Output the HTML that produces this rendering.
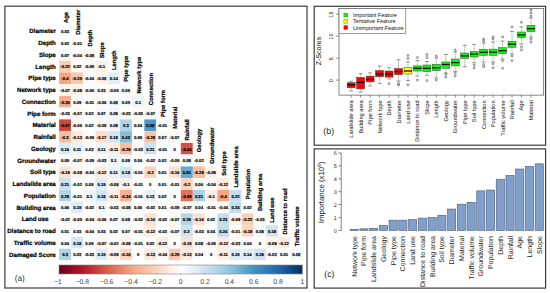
<!DOCTYPE html>
<html><head><meta charset="utf-8"><style>
html,body{margin:0;padding:0;background:#fff;width:550px;height:293px;overflow:hidden}
svg{display:block;font-family:"Liberation Sans",sans-serif;text-rendering:geometricPrecision}
</style></head><body>
<svg width="550" height="293" viewBox="0 0 550 293">
<rect width="550" height="293" fill="#fff"/>
<rect x="4.9" y="6.2" width="302.1" height="281.8" fill="none" stroke="#333" stroke-width="1.15"/>
<rect x="314.2" y="6.3" width="231.4" height="138.9" fill="none" stroke="#333" stroke-width="1.15"/>
<rect x="314.2" y="148.9" width="231.4" height="139.2" fill="none" stroke="#333" stroke-width="1.15"/>
<rect x="59.10" y="25.40" width="11.97" height="11.55" fill="#fcfdfe"/>
<rect x="59.10" y="37.15" width="11.97" height="11.55" fill="#fdfefe"/>
<rect x="71.27" y="37.15" width="11.97" height="11.55" fill="#fffffe"/>
<rect x="59.10" y="48.90" width="11.97" height="11.55" fill="#f5f9fc"/>
<rect x="71.27" y="48.90" width="11.97" height="11.55" fill="#fffbf9"/>
<rect x="83.44" y="48.90" width="11.97" height="11.55" fill="#fef4ee"/>
<rect x="59.10" y="60.65" width="11.97" height="11.55" fill="#fbceb6"/>
<rect x="71.27" y="60.65" width="11.97" height="11.55" fill="#fdfefe"/>
<rect x="83.44" y="60.65" width="11.97" height="11.55" fill="#fffaf7"/>
<rect x="95.61" y="60.65" width="11.97" height="11.55" fill="#feefe7"/>
<rect x="59.10" y="72.40" width="11.97" height="11.55" fill="#f4a582"/>
<rect x="71.27" y="72.40" width="11.97" height="11.55" fill="#fac8ae"/>
<rect x="83.44" y="72.40" width="11.97" height="11.55" fill="#fffbf9"/>
<rect x="95.61" y="72.40" width="11.97" height="11.55" fill="#fef4ee"/>
<rect x="107.78" y="72.40" width="11.97" height="11.55" fill="#e2eef6"/>
<rect x="59.10" y="84.15" width="11.97" height="11.55" fill="#fef6f1"/>
<rect x="71.27" y="84.15" width="11.97" height="11.55" fill="#fef2eb"/>
<rect x="83.44" y="84.15" width="11.97" height="11.55" fill="#fff8f4"/>
<rect x="95.61" y="84.15" width="11.97" height="11.55" fill="#fcfdfe"/>
<rect x="107.78" y="84.15" width="11.97" height="11.55" fill="#fffaf7"/>
<rect x="119.95" y="84.15" width="11.97" height="11.55" fill="#f9fbfd"/>
<rect x="59.10" y="95.90" width="11.97" height="11.55" fill="#f6ae8e"/>
<rect x="71.27" y="95.90" width="11.97" height="11.55" fill="#f9fbfd"/>
<rect x="83.44" y="95.90" width="11.97" height="11.55" fill="#fffffe"/>
<rect x="95.61" y="95.90" width="11.97" height="11.55" fill="#fff8f4"/>
<rect x="107.78" y="95.90" width="11.97" height="11.55" fill="#f2f8fb"/>
<rect x="119.95" y="95.90" width="11.97" height="11.55" fill="#f9fbfd"/>
<rect x="132.12" y="95.90" width="11.97" height="11.55" fill="#edf5f9"/>
<rect x="59.10" y="107.65" width="11.97" height="11.55" fill="#fffcfb"/>
<rect x="71.27" y="107.65" width="11.97" height="11.55" fill="#fef6f1"/>
<rect x="83.44" y="107.65" width="11.97" height="11.55" fill="#fdfefe"/>
<rect x="95.61" y="107.65" width="11.97" height="11.55" fill="#f5f9fc"/>
<rect x="107.78" y="107.65" width="11.97" height="11.55" fill="#f0f6fa"/>
<rect x="119.95" y="107.65" width="11.97" height="11.55" fill="#fffcfb"/>
<rect x="132.12" y="107.65" width="11.97" height="11.55" fill="#fffaf7"/>
<rect x="144.29" y="107.65" width="11.97" height="11.55" fill="#fef6f1"/>
<rect x="59.10" y="119.40" width="11.97" height="11.55" fill="#c94741"/>
<rect x="71.27" y="119.40" width="11.97" height="11.55" fill="#fff8f4"/>
<rect x="83.44" y="119.40" width="11.97" height="11.55" fill="#fdfefe"/>
<rect x="95.61" y="119.40" width="11.97" height="11.55" fill="#fffaf7"/>
<rect x="107.78" y="119.40" width="11.97" height="11.55" fill="#f0f6fa"/>
<rect x="119.95" y="119.40" width="11.97" height="11.55" fill="#b0d4e6"/>
<rect x="132.12" y="119.40" width="11.97" height="11.55" fill="#fbfcfe"/>
<rect x="144.29" y="119.40" width="11.97" height="11.55" fill="#4b98c6"/>
<rect x="156.46" y="119.40" width="11.97" height="11.55" fill="#fffffe"/>
<rect x="59.10" y="131.15" width="11.97" height="11.55" fill="#f8bc9f"/>
<rect x="71.27" y="131.15" width="11.97" height="11.55" fill="#fde8dc"/>
<rect x="83.44" y="131.15" width="11.97" height="11.55" fill="#fffaf7"/>
<rect x="95.61" y="131.15" width="11.97" height="11.55" fill="#fdddca"/>
<rect x="107.78" y="131.15" width="11.97" height="11.55" fill="#d4e6f1"/>
<rect x="119.95" y="131.15" width="11.97" height="11.55" fill="#86beda"/>
<rect x="132.12" y="131.15" width="11.97" height="11.55" fill="#f9fbfd"/>
<rect x="144.29" y="131.15" width="11.97" height="11.55" fill="#f9c1a5"/>
<rect x="156.46" y="131.15" width="11.97" height="11.55" fill="#f5f9fc"/>
<rect x="168.63" y="131.15" width="11.97" height="11.55" fill="#fef6f1"/>
<rect x="59.10" y="142.90" width="11.97" height="11.55" fill="#dbeaf4"/>
<rect x="71.27" y="142.90" width="11.97" height="11.55" fill="#ebf3f8"/>
<rect x="83.44" y="142.90" width="11.97" height="11.55" fill="#fcfdfe"/>
<rect x="95.61" y="142.90" width="11.97" height="11.55" fill="#ebf3f8"/>
<rect x="107.78" y="142.90" width="11.97" height="11.55" fill="#feede4"/>
<rect x="119.95" y="142.90" width="11.97" height="11.55" fill="#f8bea2"/>
<rect x="132.12" y="142.90" width="11.97" height="11.55" fill="#fffcfb"/>
<rect x="144.29" y="142.90" width="11.97" height="11.55" fill="#cae1ee"/>
<rect x="156.46" y="142.90" width="11.97" height="11.55" fill="#fffffe"/>
<rect x="168.63" y="142.90" width="11.97" height="11.55" fill="#ffffff"/>
<rect x="180.80" y="142.90" width="11.97" height="11.55" fill="#cf5246"/>
<rect x="59.10" y="154.65" width="11.97" height="11.55" fill="#f9fbfd"/>
<rect x="71.27" y="154.65" width="11.97" height="11.55" fill="#fef6f1"/>
<rect x="83.44" y="154.65" width="11.97" height="11.55" fill="#fffaf7"/>
<rect x="95.61" y="154.65" width="11.97" height="11.55" fill="#fffcfb"/>
<rect x="107.78" y="154.65" width="11.97" height="11.55" fill="#edf5f9"/>
<rect x="119.95" y="154.65" width="11.97" height="11.55" fill="#f0f6fa"/>
<rect x="132.12" y="154.65" width="11.97" height="11.55" fill="#fbfcfe"/>
<rect x="144.29" y="154.65" width="11.97" height="11.55" fill="#fffefd"/>
<rect x="156.46" y="154.65" width="11.97" height="11.55" fill="#fdfefe"/>
<rect x="168.63" y="154.65" width="11.97" height="11.55" fill="#fffaf7"/>
<rect x="180.80" y="154.65" width="11.97" height="11.55" fill="#f2f8fb"/>
<rect x="192.97" y="154.65" width="11.97" height="11.55" fill="#fffefd"/>
<rect x="59.10" y="166.40" width="11.97" height="11.55" fill="#fde2d3"/>
<rect x="71.27" y="166.40" width="11.97" height="11.55" fill="#fef4ee"/>
<rect x="83.44" y="166.40" width="11.97" height="11.55" fill="#fffbf9"/>
<rect x="95.61" y="166.40" width="11.97" height="11.55" fill="#feebe0"/>
<rect x="107.78" y="166.40" width="11.97" height="11.55" fill="#ebf3f8"/>
<rect x="119.95" y="166.40" width="11.97" height="11.55" fill="#d4e6f1"/>
<rect x="132.12" y="166.40" width="11.97" height="11.55" fill="#fffffe"/>
<rect x="144.29" y="166.40" width="11.97" height="11.55" fill="#fcd3bc"/>
<rect x="156.46" y="166.40" width="11.97" height="11.55" fill="#feffff"/>
<rect x="168.63" y="166.40" width="11.97" height="11.55" fill="#fde0cf"/>
<rect x="180.80" y="166.40" width="11.97" height="11.55" fill="#67aacf"/>
<rect x="192.97" y="166.40" width="11.97" height="11.55" fill="#f8bea2"/>
<rect x="205.14" y="166.40" width="11.97" height="11.55" fill="#fef2eb"/>
<rect x="59.10" y="178.15" width="11.97" height="11.55" fill="#cae1ee"/>
<rect x="71.27" y="178.15" width="11.97" height="11.55" fill="#fffefd"/>
<rect x="83.44" y="178.15" width="11.97" height="11.55" fill="#f9fbfd"/>
<rect x="95.61" y="178.15" width="11.97" height="11.55" fill="#dfecf5"/>
<rect x="107.78" y="178.15" width="11.97" height="11.55" fill="#fef4ee"/>
<rect x="119.95" y="178.15" width="11.97" height="11.55" fill="#feefe7"/>
<rect x="132.12" y="178.15" width="11.97" height="11.55" fill="#fffffe"/>
<rect x="144.29" y="178.15" width="11.97" height="11.55" fill="#ffffff"/>
<rect x="156.46" y="178.15" width="11.97" height="11.55" fill="#feffff"/>
<rect x="168.63" y="178.15" width="11.97" height="11.55" fill="#fffffe"/>
<rect x="180.80" y="178.15" width="11.97" height="11.55" fill="#fcd3bc"/>
<rect x="192.97" y="178.15" width="11.97" height="11.55" fill="#f7fafc"/>
<rect x="205.14" y="178.15" width="11.97" height="11.55" fill="#fffbf9"/>
<rect x="217.31" y="178.15" width="11.97" height="11.55" fill="#feebe0"/>
<rect x="59.10" y="189.90" width="11.97" height="11.55" fill="#b2d5e7"/>
<rect x="71.27" y="189.90" width="11.97" height="11.55" fill="#fffffe"/>
<rect x="83.44" y="189.90" width="11.97" height="11.55" fill="#edf5f9"/>
<rect x="95.61" y="189.90" width="11.97" height="11.55" fill="#d4e6f1"/>
<rect x="107.78" y="189.90" width="11.97" height="11.55" fill="#feede4"/>
<rect x="119.95" y="189.90" width="11.97" height="11.55" fill="#f6b393"/>
<rect x="132.12" y="189.90" width="11.97" height="11.55" fill="#fffffe"/>
<rect x="144.29" y="189.90" width="11.97" height="11.55" fill="#e5f0f7"/>
<rect x="156.46" y="189.90" width="11.97" height="11.55" fill="#fdfefe"/>
<rect x="168.63" y="189.90" width="11.97" height="11.55" fill="#ffffff"/>
<rect x="180.80" y="189.90" width="11.97" height="11.55" fill="#de715a"/>
<rect x="192.97" y="189.90" width="11.97" height="11.55" fill="#add2e6"/>
<rect x="205.14" y="189.90" width="11.97" height="11.55" fill="#feefe7"/>
<rect x="217.31" y="189.90" width="11.97" height="11.55" fill="#f4a582"/>
<rect x="229.48" y="189.90" width="11.97" height="11.55" fill="#c7dfed"/>
<rect x="59.10" y="201.65" width="11.97" height="11.55" fill="#f7fafc"/>
<rect x="71.27" y="201.65" width="11.97" height="11.55" fill="#dfecf5"/>
<rect x="83.44" y="201.65" width="11.97" height="11.55" fill="#fffefd"/>
<rect x="95.61" y="201.65" width="11.97" height="11.55" fill="#edf5f9"/>
<rect x="107.78" y="201.65" width="11.97" height="11.55" fill="#fffcfb"/>
<rect x="119.95" y="201.65" width="11.97" height="11.55" fill="#fef4ee"/>
<rect x="132.12" y="201.65" width="11.97" height="11.55" fill="#f7fafc"/>
<rect x="144.29" y="201.65" width="11.97" height="11.55" fill="#fffefd"/>
<rect x="156.46" y="201.65" width="11.97" height="11.55" fill="#feffff"/>
<rect x="168.63" y="201.65" width="11.97" height="11.55" fill="#fffaf7"/>
<rect x="180.80" y="201.65" width="11.97" height="11.55" fill="#fef6f1"/>
<rect x="192.97" y="201.65" width="11.97" height="11.55" fill="#fbfcfe"/>
<rect x="205.14" y="201.65" width="11.97" height="11.55" fill="#fffffe"/>
<rect x="217.31" y="201.65" width="11.97" height="11.55" fill="#fffbf9"/>
<rect x="229.48" y="201.65" width="11.97" height="11.55" fill="#c1dcec"/>
<rect x="241.65" y="201.65" width="11.97" height="11.55" fill="#fdfefe"/>
<rect x="59.10" y="213.40" width="11.97" height="11.55" fill="#fffefd"/>
<rect x="71.27" y="213.40" width="11.97" height="11.55" fill="#fffaf7"/>
<rect x="83.44" y="213.40" width="11.97" height="11.55" fill="#fffbf9"/>
<rect x="95.61" y="213.40" width="11.97" height="11.55" fill="#fff8f4"/>
<rect x="107.78" y="213.40" width="11.97" height="11.55" fill="#f5f9fc"/>
<rect x="119.95" y="213.40" width="11.97" height="11.55" fill="#f2f8fb"/>
<rect x="132.12" y="213.40" width="11.97" height="11.55" fill="#fffefd"/>
<rect x="144.29" y="213.40" width="11.97" height="11.55" fill="#fde0cf"/>
<rect x="156.46" y="213.40" width="11.97" height="11.55" fill="#fffefd"/>
<rect x="168.63" y="213.40" width="11.97" height="11.55" fill="#fef6f1"/>
<rect x="180.80" y="213.40" width="11.97" height="11.55" fill="#b2d5e7"/>
<rect x="192.97" y="213.40" width="11.97" height="11.55" fill="#fde0cf"/>
<rect x="205.14" y="213.40" width="11.97" height="11.55" fill="#fdfefe"/>
<rect x="217.31" y="213.40" width="11.97" height="11.55" fill="#c4deec"/>
<rect x="229.48" y="213.40" width="11.97" height="11.55" fill="#fef2eb"/>
<rect x="241.65" y="213.40" width="11.97" height="11.55" fill="#fbceb6"/>
<rect x="253.82" y="213.40" width="11.97" height="11.55" fill="#fffcfb"/>
<rect x="59.10" y="225.15" width="11.97" height="11.55" fill="#feffff"/>
<rect x="71.27" y="225.15" width="11.97" height="11.55" fill="#fcfdfe"/>
<rect x="83.44" y="225.15" width="11.97" height="11.55" fill="#fffbf9"/>
<rect x="95.61" y="225.15" width="11.97" height="11.55" fill="#fcfdfe"/>
<rect x="107.78" y="225.15" width="11.97" height="11.55" fill="#fdfefe"/>
<rect x="119.95" y="225.15" width="11.97" height="11.55" fill="#f5f9fc"/>
<rect x="132.12" y="225.15" width="11.97" height="11.55" fill="#fffffe"/>
<rect x="144.29" y="225.15" width="11.97" height="11.55" fill="#feebe0"/>
<rect x="156.46" y="225.15" width="11.97" height="11.55" fill="#fffefd"/>
<rect x="168.63" y="225.15" width="11.97" height="11.55" fill="#fef6f1"/>
<rect x="180.80" y="225.15" width="11.97" height="11.55" fill="#cde2ef"/>
<rect x="192.97" y="225.15" width="11.97" height="11.55" fill="#fffcfb"/>
<rect x="205.14" y="225.15" width="11.97" height="11.55" fill="#fbfcfe"/>
<rect x="217.31" y="225.15" width="11.97" height="11.55" fill="#c1dcec"/>
<rect x="229.48" y="225.15" width="11.97" height="11.55" fill="#fffffe"/>
<rect x="241.65" y="225.15" width="11.97" height="11.55" fill="#fcd6c1"/>
<rect x="253.82" y="225.15" width="11.97" height="11.55" fill="#f2f8fb"/>
<rect x="265.99" y="225.15" width="11.97" height="11.55" fill="#d1e4f0"/>
<rect x="59.10" y="236.90" width="11.97" height="11.55" fill="#fbfcfe"/>
<rect x="71.27" y="236.90" width="11.97" height="11.55" fill="#d4e6f1"/>
<rect x="83.44" y="236.90" width="11.97" height="11.55" fill="#f9fbfd"/>
<rect x="95.61" y="236.90" width="11.97" height="11.55" fill="#fef6f1"/>
<rect x="107.78" y="236.90" width="11.97" height="11.55" fill="#fffefd"/>
<rect x="119.95" y="236.90" width="11.97" height="11.55" fill="#fef4ee"/>
<rect x="132.12" y="236.90" width="11.97" height="11.55" fill="#fffffe"/>
<rect x="144.29" y="236.90" width="11.97" height="11.55" fill="#fdfefe"/>
<rect x="156.46" y="236.90" width="11.97" height="11.55" fill="#feebe0"/>
<rect x="168.63" y="236.90" width="11.97" height="11.55" fill="#ffffff"/>
<rect x="180.80" y="236.90" width="11.97" height="11.55" fill="#fde2d3"/>
<rect x="192.97" y="236.90" width="11.97" height="11.55" fill="#f2f8fb"/>
<rect x="205.14" y="236.90" width="11.97" height="11.55" fill="#fffaf7"/>
<rect x="217.31" y="236.90" width="11.97" height="11.55" fill="#feebe0"/>
<rect x="229.48" y="236.90" width="11.97" height="11.55" fill="#fffcfb"/>
<rect x="241.65" y="236.90" width="11.97" height="11.55" fill="#fbfcfe"/>
<rect x="253.82" y="236.90" width="11.97" height="11.55" fill="#ffffff"/>
<rect x="265.99" y="236.90" width="11.97" height="11.55" fill="#fef2eb"/>
<rect x="278.16" y="236.90" width="11.97" height="11.55" fill="#feebe0"/>
<rect x="59.10" y="248.65" width="11.97" height="11.55" fill="#b0d4e6"/>
<rect x="71.27" y="248.65" width="11.97" height="11.55" fill="#fcfdfe"/>
<rect x="83.44" y="248.65" width="11.97" height="11.55" fill="#fffcfb"/>
<rect x="95.61" y="248.65" width="11.97" height="11.55" fill="#dfecf5"/>
<rect x="107.78" y="248.65" width="11.97" height="11.55" fill="#fef2eb"/>
<rect x="119.95" y="248.65" width="11.97" height="11.55" fill="#fcd9c6"/>
<rect x="132.12" y="248.65" width="11.97" height="11.55" fill="#ffffff"/>
<rect x="144.29" y="248.65" width="11.97" height="11.55" fill="#fde8dc"/>
<rect x="156.46" y="248.65" width="11.97" height="11.55" fill="#fffbf9"/>
<rect x="168.63" y="248.65" width="11.97" height="11.55" fill="#fac8ae"/>
<rect x="180.80" y="248.65" width="11.97" height="11.55" fill="#fde8dc"/>
<rect x="192.97" y="248.65" width="11.97" height="11.55" fill="#fbfcfe"/>
<rect x="205.14" y="248.65" width="11.97" height="11.55" fill="#ffffff"/>
<rect x="217.31" y="248.65" width="11.97" height="11.55" fill="#feede4"/>
<rect x="229.48" y="248.65" width="11.97" height="11.55" fill="#dfecf5"/>
<rect x="241.65" y="248.65" width="11.97" height="11.55" fill="#e2eef6"/>
<rect x="253.82" y="248.65" width="11.97" height="11.55" fill="#d1e4f0"/>
<rect x="265.99" y="248.65" width="11.97" height="11.55" fill="#fffcfb"/>
<rect x="278.16" y="248.65" width="11.97" height="11.55" fill="#feffff"/>
<rect x="290.33" y="248.65" width="11.97" height="11.55" fill="#f2f8fb"/>
<g font-family="Liberation Sans, sans-serif" font-size="4.2" font-weight="bold" fill="#000" stroke="#000" stroke-width="0.17" text-anchor="middle">
<text x="65.08" y="33.08">0.03</text>
<text x="65.08" y="44.82">0.02</text>
<text x="77.25" y="44.82">-0.01</text>
<text x="65.08" y="56.57">0.07</text>
<text x="77.25" y="56.57">-0.04</text>
<text x="89.42" y="56.57">-0.08</text>
<text x="65.08" y="68.33">-0.22</text>
<text x="77.25" y="68.33">0.02</text>
<text x="89.42" y="68.33">-0.05</text>
<text x="101.59" y="68.33">-0.1</text>
<text x="65.08" y="80.08">-0.4</text>
<text x="77.25" y="80.08">-0.25</text>
<text x="89.42" y="80.08">-0.04</text>
<text x="101.59" y="80.08">-0.08</text>
<text x="113.77" y="80.08">0.14</text>
<text x="65.08" y="91.83">-0.07</text>
<text x="77.25" y="91.83">-0.09</text>
<text x="89.42" y="91.83">-0.06</text>
<text x="101.59" y="91.83">0.03</text>
<text x="113.77" y="91.83">-0.05</text>
<text x="125.94" y="91.83">0.05</text>
<text x="65.08" y="103.58">-0.36</text>
<text x="77.25" y="103.58">0.05</text>
<text x="89.42" y="103.58">-0.01</text>
<text x="101.59" y="103.58">-0.06</text>
<text x="113.77" y="103.58">0.08</text>
<text x="125.94" y="103.58">0.05</text>
<text x="138.11" y="103.58">0.1</text>
<text x="65.08" y="115.33">-0.03</text>
<text x="77.25" y="115.33">-0.07</text>
<text x="89.42" y="115.33">0.02</text>
<text x="101.59" y="115.33">0.07</text>
<text x="113.77" y="115.33">0.09</text>
<text x="125.94" y="115.33">-0.03</text>
<text x="138.11" y="115.33">-0.05</text>
<text x="150.28" y="115.33">-0.07</text>
<text x="65.08" y="127.08">-0.67</text>
<text x="77.25" y="127.08">-0.06</text>
<text x="89.42" y="127.08">0.02</text>
<text x="101.59" y="127.08">-0.05</text>
<text x="113.77" y="127.08">0.09</text>
<text x="125.94" y="127.08">0.3</text>
<text x="138.11" y="127.08">0.04</text>
<text x="150.28" y="127.08">0.58</text>
<text x="162.44" y="127.08">-0.01</text>
<text x="65.08" y="138.83">-0.3</text>
<text x="77.25" y="138.83">-0.13</text>
<text x="89.42" y="138.83">-0.05</text>
<text x="101.59" y="138.83">-0.17</text>
<text x="113.77" y="138.83">0.18</text>
<text x="125.94" y="138.83">0.43</text>
<text x="138.11" y="138.83">0.05</text>
<text x="150.28" y="138.83">-0.28</text>
<text x="162.44" y="138.83">0.07</text>
<text x="174.62" y="138.83">-0.07</text>
<text x="65.08" y="150.58">0.16</text>
<text x="77.25" y="150.58">0.11</text>
<text x="89.42" y="150.58">0.03</text>
<text x="101.59" y="150.58">0.11</text>
<text x="113.77" y="150.58">-0.11</text>
<text x="125.94" y="150.58">-0.29</text>
<text x="138.11" y="150.58">-0.03</text>
<text x="150.28" y="150.58">0.21</text>
<text x="162.44" y="150.58">-0.01</text>
<text x="174.62" y="150.58">0</text>
<text x="186.78" y="150.58">-0.64</text>
<text x="65.08" y="162.33">0.05</text>
<text x="77.25" y="162.33">-0.07</text>
<text x="89.42" y="162.33">-0.05</text>
<text x="101.59" y="162.33">-0.03</text>
<text x="113.77" y="162.33">0.1</text>
<text x="125.94" y="162.33">0.09</text>
<text x="138.11" y="162.33">0.04</text>
<text x="150.28" y="162.33">-0.02</text>
<text x="162.44" y="162.33">0.02</text>
<text x="174.62" y="162.33">-0.05</text>
<text x="186.78" y="162.33">0.08</text>
<text x="198.96" y="162.33">-0.02</text>
<text x="65.08" y="174.08">-0.15</text>
<text x="77.25" y="174.08">-0.08</text>
<text x="89.42" y="174.08">-0.04</text>
<text x="101.59" y="174.08">-0.12</text>
<text x="113.77" y="174.08">0.11</text>
<text x="125.94" y="174.08">0.18</text>
<text x="138.11" y="174.08">-0.01</text>
<text x="150.28" y="174.08">-0.2</text>
<text x="162.44" y="174.08">0.01</text>
<text x="174.62" y="174.08">-0.16</text>
<text x="186.78" y="174.08">0.51</text>
<text x="198.96" y="174.08">-0.29</text>
<text x="211.12" y="174.08">-0.09</text>
<text x="65.08" y="185.83">0.21</text>
<text x="77.25" y="185.83">-0.02</text>
<text x="89.42" y="185.83">0.05</text>
<text x="101.59" y="185.83">0.15</text>
<text x="113.77" y="185.83">-0.08</text>
<text x="125.94" y="185.83">-0.1</text>
<text x="138.11" y="185.83">-0.01</text>
<text x="150.28" y="185.83">0</text>
<text x="162.44" y="185.83">0.01</text>
<text x="174.62" y="185.83">-0.01</text>
<text x="186.78" y="185.83">-0.2</text>
<text x="198.96" y="185.83">0.06</text>
<text x="211.12" y="185.83">-0.04</text>
<text x="223.29" y="185.83">-0.12</text>
<text x="65.08" y="197.58">0.29</text>
<text x="77.25" y="197.58">-0.01</text>
<text x="89.42" y="197.58">0.1</text>
<text x="101.59" y="197.58">0.18</text>
<text x="113.77" y="197.58">-0.11</text>
<text x="125.94" y="197.58">-0.34</text>
<text x="138.11" y="197.58">-0.01</text>
<text x="150.28" y="197.58">0.13</text>
<text x="162.44" y="197.58">0.02</text>
<text x="174.62" y="197.58">0</text>
<text x="186.78" y="197.58">-0.55</text>
<text x="198.96" y="197.58">0.31</text>
<text x="211.12" y="197.58">-0.1</text>
<text x="223.29" y="197.58">-0.4</text>
<text x="235.47" y="197.58">0.22</text>
<text x="65.08" y="209.33">0.06</text>
<text x="77.25" y="209.33">0.15</text>
<text x="89.42" y="209.33">-0.02</text>
<text x="101.59" y="209.33">0.1</text>
<text x="113.77" y="209.33">-0.03</text>
<text x="125.94" y="209.33">-0.08</text>
<text x="138.11" y="209.33">0.06</text>
<text x="150.28" y="209.33">-0.02</text>
<text x="162.44" y="209.33">0.01</text>
<text x="174.62" y="209.33">-0.05</text>
<text x="186.78" y="209.33">-0.07</text>
<text x="198.96" y="209.33">0.04</text>
<text x="211.12" y="209.33">-0.01</text>
<text x="223.29" y="209.33">-0.04</text>
<text x="235.47" y="209.33">0.24</text>
<text x="247.63" y="209.33">0.02</text>
<text x="65.08" y="221.08">-0.02</text>
<text x="77.25" y="221.08">-0.05</text>
<text x="89.42" y="221.08">-0.04</text>
<text x="101.59" y="221.08">-0.06</text>
<text x="113.77" y="221.08">0.07</text>
<text x="125.94" y="221.08">0.08</text>
<text x="138.11" y="221.08">-0.02</text>
<text x="150.28" y="221.08">-0.16</text>
<text x="162.44" y="221.08">-0.02</text>
<text x="174.62" y="221.08">-0.07</text>
<text x="186.78" y="221.08">0.29</text>
<text x="198.96" y="221.08">-0.16</text>
<text x="211.12" y="221.08">0.02</text>
<text x="223.29" y="221.08">0.23</text>
<text x="235.47" y="221.08">-0.09</text>
<text x="247.63" y="221.08">-0.22</text>
<text x="259.81" y="221.08">-0.03</text>
<text x="65.08" y="232.83">0.01</text>
<text x="77.25" y="232.83">0.03</text>
<text x="89.42" y="232.83">-0.04</text>
<text x="101.59" y="232.83">0.03</text>
<text x="113.77" y="232.83">0.02</text>
<text x="125.94" y="232.83">0.07</text>
<text x="138.11" y="232.83">-0.01</text>
<text x="150.28" y="232.83">-0.12</text>
<text x="162.44" y="232.83">-0.02</text>
<text x="174.62" y="232.83">-0.07</text>
<text x="186.78" y="232.83">0.2</text>
<text x="198.96" y="232.83">-0.03</text>
<text x="211.12" y="232.83">0.04</text>
<text x="223.29" y="232.83">0.24</text>
<text x="235.47" y="232.83">-0.01</text>
<text x="247.63" y="232.83">-0.19</text>
<text x="259.81" y="232.83">0.08</text>
<text x="271.98" y="232.83">0.19</text>
<text x="65.08" y="244.58">0.04</text>
<text x="77.25" y="244.58">0.18</text>
<text x="89.42" y="244.58">0.05</text>
<text x="101.59" y="244.58">-0.07</text>
<text x="113.77" y="244.58">-0.02</text>
<text x="125.94" y="244.58">-0.08</text>
<text x="138.11" y="244.58">-0.01</text>
<text x="150.28" y="244.58">0.02</text>
<text x="162.44" y="244.58">-0.12</text>
<text x="174.62" y="244.58">0</text>
<text x="186.78" y="244.58">-0.15</text>
<text x="198.96" y="244.58">0.08</text>
<text x="211.12" y="244.58">-0.05</text>
<text x="223.29" y="244.58">-0.12</text>
<text x="235.47" y="244.58">-0.03</text>
<text x="247.63" y="244.58">0.04</text>
<text x="259.81" y="244.58">0</text>
<text x="271.98" y="244.58">-0.09</text>
<text x="284.14" y="244.58">-0.12</text>
<text x="65.08" y="256.32">0.3</text>
<text x="77.25" y="256.32">0.03</text>
<text x="89.42" y="256.32">-0.03</text>
<text x="101.59" y="256.32">0.15</text>
<text x="113.77" y="256.32">-0.09</text>
<text x="125.94" y="256.32">-0.18</text>
<text x="138.11" y="256.32">0</text>
<text x="150.28" y="256.32">-0.13</text>
<text x="162.44" y="256.32">-0.04</text>
<text x="174.62" y="256.32">-0.25</text>
<text x="186.78" y="256.32">-0.13</text>
<text x="198.96" y="256.32">0.04</text>
<text x="211.12" y="256.32">0</text>
<text x="223.29" y="256.32">-0.11</text>
<text x="235.47" y="256.32">0.15</text>
<text x="247.63" y="256.32">0.14</text>
<text x="259.81" y="256.32">0.19</text>
<text x="271.98" y="256.32">-0.03</text>
<text x="284.14" y="256.32">0.01</text>
<text x="296.31" y="256.32">0.08</text>
</g>
<g font-family="Liberation Sans, sans-serif" font-size="6.2" font-weight="bold" fill="#000" stroke="#000" stroke-width="0.22" text-anchor="end">
<text x="55.8" y="33.27">Diameter</text>
<text x="55.8" y="45.02">Depth</text>
<text x="55.8" y="56.77">Slope</text>
<text x="55.8" y="68.52">Length</text>
<text x="55.8" y="80.27">Pipe type</text>
<text x="55.8" y="92.02">Network type</text>
<text x="55.8" y="103.77">Connection</text>
<text x="55.8" y="115.52">Pipe form</text>
<text x="55.8" y="127.27">Material</text>
<text x="55.8" y="139.03">Rainfall</text>
<text x="55.8" y="150.78">Geology</text>
<text x="55.8" y="162.53">Groundwater</text>
<text x="55.8" y="174.28">Soil type</text>
<text x="55.8" y="186.03">Landslide area</text>
<text x="55.8" y="197.78">Population</text>
<text x="55.8" y="209.53">Building area</text>
<text x="48.5" y="221.28" word-spacing="-0.5">Land use</text>
<text x="55.8" y="233.03">Distance to road</text>
<text x="55.8" y="244.78">Traffic volume</text>
<text x="55.8" y="256.53">Damaged Score</text>
</g>
<g font-family="Liberation Sans, sans-serif" font-size="5.9" font-weight="bold" fill="#000" stroke="#000" stroke-width="0.2">
<text transform="translate(67.58,23.10) rotate(-90)">Age</text>
<text transform="translate(79.75,34.85) rotate(-90)">Diameter</text>
<text transform="translate(91.92,46.60) rotate(-90)">Depth</text>
<text transform="translate(104.09,58.35) rotate(-90)">Slope</text>
<text transform="translate(116.27,70.10) rotate(-90)">Length</text>
<text transform="translate(128.44,81.85) rotate(-90)">Pipe type</text>
<text transform="translate(140.61,93.60) rotate(-90)">Network type</text>
<text transform="translate(152.78,105.35) rotate(-90)">Connection</text>
<text transform="translate(164.94,117.10) rotate(-90)">Pipe form</text>
<text transform="translate(177.12,128.85) rotate(-90)">Material</text>
<text transform="translate(189.28,140.60) rotate(-90)">Rainfall</text>
<text transform="translate(201.46,152.35) rotate(-90)">Geology</text>
<text transform="translate(213.62,164.10) rotate(-90)">Groundwater</text>
<text transform="translate(225.79,175.85) rotate(-90)">Soil type</text>
<text transform="translate(237.97,187.60) rotate(-90)">Landslide area</text>
<text transform="translate(250.13,199.35) rotate(-90)">Population</text>
<text transform="translate(262.31,211.10) rotate(-90)">Building area</text>
<text transform="translate(274.48,222.85) rotate(-90)" word-spacing="-0.5">Land use</text>
<text transform="translate(286.64,234.60) rotate(-90)">Distance to road</text>
<text transform="translate(298.81,246.35) rotate(-90)">Traffic volume</text>
</g>
<defs><linearGradient id="cb" x1="0" x2="1" y1="0" y2="0">
<stop offset="0.00" stop-color="#67001f"/>
<stop offset="0.10" stop-color="#b2182b"/>
<stop offset="0.20" stop-color="#d6604d"/>
<stop offset="0.30" stop-color="#f4a582"/>
<stop offset="0.40" stop-color="#fcd3bc"/>
<stop offset="0.50" stop-color="#ffffff"/>
<stop offset="0.60" stop-color="#cde2ef"/>
<stop offset="0.70" stop-color="#92c5de"/>
<stop offset="0.80" stop-color="#4393c3"/>
<stop offset="0.90" stop-color="#2166ac"/>
<stop offset="1.00" stop-color="#053061"/>
</linearGradient></defs>
<rect x="59.0" y="265.0" width="243.40" height="9.0" fill="url(#cb)" stroke="#888" stroke-width="0.6"/>
<g font-family="Liberation Sans, sans-serif" font-size="6.8" fill="#444" text-anchor="middle">
<line x1="59.00" y1="273" x2="59.00" y2="274.5" stroke="#888" stroke-width="0.6"/>
<text x="58.00" y="284.0">−1</text>
<line x1="83.34" y1="273" x2="83.34" y2="274.5" stroke="#888" stroke-width="0.6"/>
<text x="82.34" y="284.0">−0.8</text>
<line x1="107.68" y1="273" x2="107.68" y2="274.5" stroke="#888" stroke-width="0.6"/>
<text x="106.68" y="284.0">−0.6</text>
<line x1="132.02" y1="273" x2="132.02" y2="274.5" stroke="#888" stroke-width="0.6"/>
<text x="131.02" y="284.0">−0.4</text>
<line x1="156.36" y1="273" x2="156.36" y2="274.5" stroke="#888" stroke-width="0.6"/>
<text x="155.36" y="284.0">−0.2</text>
<line x1="180.70" y1="273" x2="180.70" y2="274.5" stroke="#888" stroke-width="0.6"/>
<text x="180.70" y="284.0">0</text>
<line x1="205.04" y1="273" x2="205.04" y2="274.5" stroke="#888" stroke-width="0.6"/>
<text x="205.04" y="284.0">0.2</text>
<line x1="229.38" y1="273" x2="229.38" y2="274.5" stroke="#888" stroke-width="0.6"/>
<text x="229.38" y="284.0">0.4</text>
<line x1="253.72" y1="273" x2="253.72" y2="274.5" stroke="#888" stroke-width="0.6"/>
<text x="253.72" y="284.0">0.6</text>
<line x1="278.06" y1="273" x2="278.06" y2="274.5" stroke="#888" stroke-width="0.6"/>
<text x="278.06" y="284.0">0.8</text>
<line x1="302.40" y1="273" x2="302.40" y2="274.5" stroke="#888" stroke-width="0.6"/>
<text x="302.40" y="284.0">1</text>
</g>
<text x="19.8" y="280.6" font-family="Liberation Sans, sans-serif" font-size="8.2" fill="#333" text-anchor="middle">(a)</text>
<rect x="339.0" y="8.5" width="204.70" height="86.60" fill="none" stroke="#555" stroke-width="0.7"/>
<g font-family="Liberation Sans, sans-serif" font-size="5.5" fill="#111" text-anchor="middle">
<line x1="336.00" y1="80.10" x2="339.0" y2="80.10" stroke="#444" stroke-width="0.6"/>
<text transform="translate(332.8,80.60) rotate(-90)">0</text>
<line x1="336.00" y1="58.10" x2="339.0" y2="58.10" stroke="#444" stroke-width="0.6"/>
<text transform="translate(332.8,58.60) rotate(-90)">5</text>
<line x1="336.00" y1="36.10" x2="339.0" y2="36.10" stroke="#444" stroke-width="0.6"/>
<text transform="translate(332.8,36.60) rotate(-90)">10</text>
<line x1="336.00" y1="14.10" x2="339.0" y2="14.10" stroke="#444" stroke-width="0.6"/>
<text transform="translate(332.8,14.60) rotate(-90)">15</text>
</g>
<text transform="translate(321.3,51) rotate(-90)" font-family="Liberation Sans, sans-serif" font-size="7" fill="#000" text-anchor="middle">Z-Scores</text>
<line x1="351.20" y1="81.3" x2="351.20" y2="82.7" stroke="#333" stroke-width="0.5" stroke-dasharray="1,0.8"/>
<line x1="351.20" y1="87.8" x2="351.20" y2="90.9" stroke="#333" stroke-width="0.5" stroke-dasharray="1,0.8"/>
<line x1="349.20" y1="81.3" x2="353.20" y2="81.3" stroke="#333" stroke-width="0.5"/>
<line x1="349.20" y1="90.9" x2="353.20" y2="90.9" stroke="#333" stroke-width="0.5"/>
<rect x="347.20" y="82.7" width="8.0" height="5.10" fill="#ff0000" stroke="#444" stroke-width="0.5"/>
<line x1="347.20" y1="84.9" x2="355.20" y2="84.9" stroke="#111" stroke-width="1.3"/>
<line x1="351.20" y1="95.1" x2="351.20" y2="97.60" stroke="#444" stroke-width="0.6"/>
<line x1="360.66" y1="73.8" x2="360.66" y2="77.3" stroke="#333" stroke-width="0.5" stroke-dasharray="1,0.8"/>
<line x1="360.66" y1="88.9" x2="360.66" y2="92.2" stroke="#333" stroke-width="0.5" stroke-dasharray="1,0.8"/>
<line x1="358.66" y1="73.8" x2="362.66" y2="73.8" stroke="#333" stroke-width="0.5"/>
<line x1="358.66" y1="92.2" x2="362.66" y2="92.2" stroke="#333" stroke-width="0.5"/>
<rect x="356.66" y="77.3" width="8.0" height="11.60" fill="#ff0000" stroke="#444" stroke-width="0.5"/>
<line x1="356.66" y1="82.4" x2="364.66" y2="82.4" stroke="#111" stroke-width="1.3"/>
<line x1="360.66" y1="95.1" x2="360.66" y2="97.60" stroke="#444" stroke-width="0.6"/>
<line x1="370.12" y1="72.9" x2="370.12" y2="76.1" stroke="#333" stroke-width="0.5" stroke-dasharray="1,0.8"/>
<line x1="370.12" y1="81.9" x2="370.12" y2="86" stroke="#333" stroke-width="0.5" stroke-dasharray="1,0.8"/>
<line x1="368.12" y1="72.9" x2="372.12" y2="72.9" stroke="#333" stroke-width="0.5"/>
<line x1="368.12" y1="86" x2="372.12" y2="86" stroke="#333" stroke-width="0.5"/>
<rect x="366.12" y="76.1" width="8.0" height="5.80" fill="#ff0000" stroke="#444" stroke-width="0.5"/>
<line x1="366.12" y1="79.4" x2="374.12" y2="79.4" stroke="#111" stroke-width="1.3"/>
<line x1="370.12" y1="95.1" x2="370.12" y2="97.60" stroke="#444" stroke-width="0.6"/>
<line x1="379.58" y1="66.1" x2="379.58" y2="70.5" stroke="#333" stroke-width="0.5" stroke-dasharray="1,0.8"/>
<line x1="379.58" y1="76.8" x2="379.58" y2="83.6" stroke="#333" stroke-width="0.5" stroke-dasharray="1,0.8"/>
<line x1="377.58" y1="66.1" x2="381.58" y2="66.1" stroke="#333" stroke-width="0.5"/>
<line x1="377.58" y1="83.6" x2="381.58" y2="83.6" stroke="#333" stroke-width="0.5"/>
<rect x="375.58" y="70.5" width="8.0" height="6.30" fill="#ff0000" stroke="#444" stroke-width="0.5"/>
<line x1="375.58" y1="74.2" x2="383.58" y2="74.2" stroke="#111" stroke-width="1.3"/>
<line x1="379.58" y1="95.1" x2="379.58" y2="97.60" stroke="#444" stroke-width="0.6"/>
<line x1="389.04" y1="67.7" x2="389.04" y2="71" stroke="#333" stroke-width="0.5" stroke-dasharray="1,0.8"/>
<line x1="389.04" y1="77.1" x2="389.04" y2="79" stroke="#333" stroke-width="0.5" stroke-dasharray="1,0.8"/>
<line x1="387.04" y1="67.7" x2="391.04" y2="67.7" stroke="#333" stroke-width="0.5"/>
<line x1="387.04" y1="79" x2="391.04" y2="79" stroke="#333" stroke-width="0.5"/>
<rect x="385.04" y="71" width="8.0" height="6.10" fill="#ff0000" stroke="#444" stroke-width="0.5"/>
<line x1="385.04" y1="74" x2="393.04" y2="74" stroke="#111" stroke-width="1.3"/>
<circle cx="389.04" cy="83.6" r="1.0" fill="none" stroke="#333" stroke-width="0.55"/>
<line x1="389.04" y1="95.1" x2="389.04" y2="97.60" stroke="#444" stroke-width="0.6"/>
<line x1="398.50" y1="59.7" x2="398.50" y2="68.5" stroke="#333" stroke-width="0.5" stroke-dasharray="1,0.8"/>
<line x1="398.50" y1="74.7" x2="398.50" y2="81.2" stroke="#333" stroke-width="0.5" stroke-dasharray="1,0.8"/>
<line x1="396.50" y1="59.7" x2="400.50" y2="59.7" stroke="#333" stroke-width="0.5"/>
<line x1="396.50" y1="81.2" x2="400.50" y2="81.2" stroke="#333" stroke-width="0.5"/>
<rect x="394.50" y="68.5" width="8.0" height="6.20" fill="#ff0000" stroke="#444" stroke-width="0.5"/>
<line x1="394.50" y1="71.6" x2="402.50" y2="71.6" stroke="#111" stroke-width="1.3"/>
<circle cx="398.50" cy="83.6" r="1.0" fill="none" stroke="#333" stroke-width="0.55"/>
<circle cx="398.50" cy="85" r="1.0" fill="none" stroke="#333" stroke-width="0.55"/>
<line x1="398.50" y1="95.1" x2="398.50" y2="97.60" stroke="#444" stroke-width="0.6"/>
<line x1="407.96" y1="62" x2="407.96" y2="67.5" stroke="#333" stroke-width="0.5" stroke-dasharray="1,0.8"/>
<line x1="407.96" y1="74" x2="407.96" y2="80.5" stroke="#333" stroke-width="0.5" stroke-dasharray="1,0.8"/>
<line x1="405.96" y1="62" x2="409.96" y2="62" stroke="#333" stroke-width="0.5"/>
<line x1="405.96" y1="80.5" x2="409.96" y2="80.5" stroke="#333" stroke-width="0.5"/>
<rect x="403.96" y="67.5" width="8.0" height="6.50" fill="#ffff00" stroke="#444" stroke-width="0.5"/>
<line x1="403.96" y1="71" x2="411.96" y2="71" stroke="#111" stroke-width="1.3"/>
<circle cx="407.96" cy="55.4" r="1.0" fill="none" stroke="#333" stroke-width="0.55"/>
<circle cx="407.96" cy="58.5" r="1.0" fill="none" stroke="#333" stroke-width="0.55"/>
<circle cx="407.96" cy="85" r="1.0" fill="none" stroke="#333" stroke-width="0.55"/>
<line x1="407.96" y1="95.1" x2="407.96" y2="97.60" stroke="#444" stroke-width="0.6"/>
<line x1="417.42" y1="60.6" x2="417.42" y2="65.9" stroke="#333" stroke-width="0.5" stroke-dasharray="1,0.8"/>
<line x1="417.42" y1="71" x2="417.42" y2="76" stroke="#333" stroke-width="0.5" stroke-dasharray="1,0.8"/>
<line x1="415.42" y1="60.6" x2="419.42" y2="60.6" stroke="#333" stroke-width="0.5"/>
<line x1="415.42" y1="76" x2="419.42" y2="76" stroke="#333" stroke-width="0.5"/>
<rect x="413.42" y="65.9" width="8.0" height="5.10" fill="#00ff00" stroke="#444" stroke-width="0.5"/>
<line x1="413.42" y1="68.3" x2="421.42" y2="68.3" stroke="#111" stroke-width="1.3"/>
<circle cx="417.42" cy="57.5" r="1.0" fill="none" stroke="#333" stroke-width="0.55"/>
<circle cx="417.42" cy="80" r="1.0" fill="none" stroke="#333" stroke-width="0.55"/>
<line x1="417.42" y1="95.1" x2="417.42" y2="97.60" stroke="#444" stroke-width="0.6"/>
<line x1="426.88" y1="61.5" x2="426.88" y2="65" stroke="#333" stroke-width="0.5" stroke-dasharray="1,0.8"/>
<line x1="426.88" y1="71.6" x2="426.88" y2="75.3" stroke="#333" stroke-width="0.5" stroke-dasharray="1,0.8"/>
<line x1="424.88" y1="61.5" x2="428.88" y2="61.5" stroke="#333" stroke-width="0.5"/>
<line x1="424.88" y1="75.3" x2="428.88" y2="75.3" stroke="#333" stroke-width="0.5"/>
<rect x="422.88" y="65" width="8.0" height="6.60" fill="#00ff00" stroke="#444" stroke-width="0.5"/>
<line x1="422.88" y1="68.3" x2="430.88" y2="68.3" stroke="#111" stroke-width="1.3"/>
<circle cx="426.88" cy="54.5" r="1.0" fill="none" stroke="#333" stroke-width="0.55"/>
<circle cx="426.88" cy="57.5" r="1.0" fill="none" stroke="#333" stroke-width="0.55"/>
<circle cx="426.88" cy="80.5" r="1.0" fill="none" stroke="#333" stroke-width="0.55"/>
<line x1="426.88" y1="95.1" x2="426.88" y2="97.60" stroke="#444" stroke-width="0.6"/>
<line x1="436.34" y1="58" x2="436.34" y2="64.3" stroke="#333" stroke-width="0.5" stroke-dasharray="1,0.8"/>
<line x1="436.34" y1="70.7" x2="436.34" y2="78" stroke="#333" stroke-width="0.5" stroke-dasharray="1,0.8"/>
<line x1="434.34" y1="58" x2="438.34" y2="58" stroke="#333" stroke-width="0.5"/>
<line x1="434.34" y1="78" x2="438.34" y2="78" stroke="#333" stroke-width="0.5"/>
<rect x="432.34" y="64.3" width="8.0" height="6.40" fill="#00ff00" stroke="#444" stroke-width="0.5"/>
<line x1="432.34" y1="67.8" x2="440.34" y2="67.8" stroke="#111" stroke-width="1.3"/>
<circle cx="436.34" cy="56" r="1.0" fill="none" stroke="#333" stroke-width="0.55"/>
<circle cx="436.34" cy="80" r="1.0" fill="none" stroke="#333" stroke-width="0.55"/>
<line x1="436.34" y1="95.1" x2="436.34" y2="97.60" stroke="#444" stroke-width="0.6"/>
<line x1="445.80" y1="54.5" x2="445.80" y2="62" stroke="#333" stroke-width="0.5" stroke-dasharray="1,0.8"/>
<line x1="445.80" y1="68.3" x2="445.80" y2="73" stroke="#333" stroke-width="0.5" stroke-dasharray="1,0.8"/>
<line x1="443.80" y1="54.5" x2="447.80" y2="54.5" stroke="#333" stroke-width="0.5"/>
<line x1="443.80" y1="73" x2="447.80" y2="73" stroke="#333" stroke-width="0.5"/>
<rect x="441.80" y="62" width="8.0" height="6.30" fill="#00ff00" stroke="#444" stroke-width="0.5"/>
<line x1="441.80" y1="64.5" x2="449.80" y2="64.5" stroke="#111" stroke-width="1.3"/>
<circle cx="445.80" cy="74.4" r="1.0" fill="none" stroke="#333" stroke-width="0.55"/>
<circle cx="445.80" cy="77" r="1.0" fill="none" stroke="#333" stroke-width="0.55"/>
<line x1="445.80" y1="95.1" x2="445.80" y2="97.60" stroke="#444" stroke-width="0.6"/>
<line x1="455.26" y1="52" x2="455.26" y2="59" stroke="#333" stroke-width="0.5" stroke-dasharray="1,0.8"/>
<line x1="455.26" y1="65.8" x2="455.26" y2="71.3" stroke="#333" stroke-width="0.5" stroke-dasharray="1,0.8"/>
<line x1="453.26" y1="52" x2="457.26" y2="52" stroke="#333" stroke-width="0.5"/>
<line x1="453.26" y1="71.3" x2="457.26" y2="71.3" stroke="#333" stroke-width="0.5"/>
<rect x="451.26" y="59" width="8.0" height="6.80" fill="#00ff00" stroke="#444" stroke-width="0.5"/>
<line x1="451.26" y1="62.6" x2="459.26" y2="62.6" stroke="#111" stroke-width="1.3"/>
<circle cx="455.26" cy="50" r="1.0" fill="none" stroke="#333" stroke-width="0.55"/>
<circle cx="455.26" cy="73" r="1.0" fill="none" stroke="#333" stroke-width="0.55"/>
<circle cx="455.26" cy="76" r="1.0" fill="none" stroke="#333" stroke-width="0.55"/>
<line x1="455.26" y1="95.1" x2="455.26" y2="97.60" stroke="#444" stroke-width="0.6"/>
<line x1="464.72" y1="45.3" x2="464.72" y2="53" stroke="#333" stroke-width="0.5" stroke-dasharray="1,0.8"/>
<line x1="464.72" y1="58.5" x2="464.72" y2="66.7" stroke="#333" stroke-width="0.5" stroke-dasharray="1,0.8"/>
<line x1="462.72" y1="45.3" x2="466.72" y2="45.3" stroke="#333" stroke-width="0.5"/>
<line x1="462.72" y1="66.7" x2="466.72" y2="66.7" stroke="#333" stroke-width="0.5"/>
<rect x="460.72" y="53" width="8.0" height="5.50" fill="#00ff00" stroke="#444" stroke-width="0.5"/>
<line x1="460.72" y1="55.9" x2="468.72" y2="55.9" stroke="#111" stroke-width="1.3"/>
<line x1="464.72" y1="95.1" x2="464.72" y2="97.60" stroke="#444" stroke-width="0.6"/>
<line x1="474.18" y1="44.4" x2="474.18" y2="51.4" stroke="#333" stroke-width="0.5" stroke-dasharray="1,0.8"/>
<line x1="474.18" y1="57" x2="474.18" y2="62.8" stroke="#333" stroke-width="0.5" stroke-dasharray="1,0.8"/>
<line x1="472.18" y1="44.4" x2="476.18" y2="44.4" stroke="#333" stroke-width="0.5"/>
<line x1="472.18" y1="62.8" x2="476.18" y2="62.8" stroke="#333" stroke-width="0.5"/>
<rect x="470.18" y="51.4" width="8.0" height="5.60" fill="#00ff00" stroke="#444" stroke-width="0.5"/>
<line x1="470.18" y1="54" x2="478.18" y2="54" stroke="#111" stroke-width="1.3"/>
<circle cx="474.18" cy="65" r="1.0" fill="none" stroke="#333" stroke-width="0.55"/>
<circle cx="474.18" cy="68" r="1.0" fill="none" stroke="#333" stroke-width="0.55"/>
<line x1="474.18" y1="95.1" x2="474.18" y2="97.60" stroke="#444" stroke-width="0.6"/>
<line x1="483.64" y1="43" x2="483.64" y2="49.3" stroke="#333" stroke-width="0.5" stroke-dasharray="1,0.8"/>
<line x1="483.64" y1="55.4" x2="483.64" y2="62" stroke="#333" stroke-width="0.5" stroke-dasharray="1,0.8"/>
<line x1="481.64" y1="43" x2="485.64" y2="43" stroke="#333" stroke-width="0.5"/>
<line x1="481.64" y1="62" x2="485.64" y2="62" stroke="#333" stroke-width="0.5"/>
<rect x="479.64" y="49.3" width="8.0" height="6.10" fill="#00ff00" stroke="#444" stroke-width="0.5"/>
<line x1="479.64" y1="52.3" x2="487.64" y2="52.3" stroke="#111" stroke-width="1.3"/>
<circle cx="483.64" cy="39" r="1.0" fill="none" stroke="#333" stroke-width="0.55"/>
<circle cx="483.64" cy="41" r="1.0" fill="none" stroke="#333" stroke-width="0.55"/>
<circle cx="483.64" cy="64.6" r="1.0" fill="none" stroke="#333" stroke-width="0.55"/>
<circle cx="483.64" cy="66.7" r="1.0" fill="none" stroke="#333" stroke-width="0.55"/>
<line x1="483.64" y1="95.1" x2="483.64" y2="97.60" stroke="#444" stroke-width="0.6"/>
<line x1="493.10" y1="42" x2="493.10" y2="49.1" stroke="#333" stroke-width="0.5" stroke-dasharray="1,0.8"/>
<line x1="493.10" y1="55.3" x2="493.10" y2="62" stroke="#333" stroke-width="0.5" stroke-dasharray="1,0.8"/>
<line x1="491.10" y1="42" x2="495.10" y2="42" stroke="#333" stroke-width="0.5"/>
<line x1="491.10" y1="62" x2="495.10" y2="62" stroke="#333" stroke-width="0.5"/>
<rect x="489.10" y="49.1" width="8.0" height="6.20" fill="#00ff00" stroke="#444" stroke-width="0.5"/>
<line x1="489.10" y1="52.1" x2="497.10" y2="52.1" stroke="#111" stroke-width="1.3"/>
<circle cx="493.10" cy="37" r="1.0" fill="none" stroke="#333" stroke-width="0.55"/>
<circle cx="493.10" cy="39" r="1.0" fill="none" stroke="#333" stroke-width="0.55"/>
<circle cx="493.10" cy="63.7" r="1.0" fill="none" stroke="#333" stroke-width="0.55"/>
<circle cx="493.10" cy="67.7" r="1.0" fill="none" stroke="#333" stroke-width="0.55"/>
<line x1="493.10" y1="95.1" x2="493.10" y2="97.60" stroke="#444" stroke-width="0.6"/>
<line x1="502.56" y1="41" x2="502.56" y2="47.7" stroke="#333" stroke-width="0.5" stroke-dasharray="1,0.8"/>
<line x1="502.56" y1="53.6" x2="502.56" y2="59" stroke="#333" stroke-width="0.5" stroke-dasharray="1,0.8"/>
<line x1="500.56" y1="41" x2="504.56" y2="41" stroke="#333" stroke-width="0.5"/>
<line x1="500.56" y1="59" x2="504.56" y2="59" stroke="#333" stroke-width="0.5"/>
<rect x="498.56" y="47.7" width="8.0" height="5.90" fill="#00ff00" stroke="#444" stroke-width="0.5"/>
<line x1="498.56" y1="50.7" x2="506.56" y2="50.7" stroke="#111" stroke-width="1.3"/>
<circle cx="502.56" cy="37" r="1.0" fill="none" stroke="#333" stroke-width="0.55"/>
<circle cx="502.56" cy="60.6" r="1.0" fill="none" stroke="#333" stroke-width="0.55"/>
<circle cx="502.56" cy="68.3" r="1.0" fill="none" stroke="#333" stroke-width="0.55"/>
<line x1="502.56" y1="95.1" x2="502.56" y2="97.60" stroke="#444" stroke-width="0.6"/>
<line x1="512.02" y1="31.5" x2="512.02" y2="41.3" stroke="#333" stroke-width="0.5" stroke-dasharray="1,0.8"/>
<line x1="512.02" y1="47.4" x2="512.02" y2="54" stroke="#333" stroke-width="0.5" stroke-dasharray="1,0.8"/>
<line x1="510.02" y1="31.5" x2="514.02" y2="31.5" stroke="#333" stroke-width="0.5"/>
<line x1="510.02" y1="54" x2="514.02" y2="54" stroke="#333" stroke-width="0.5"/>
<rect x="508.02" y="41.3" width="8.0" height="6.10" fill="#00ff00" stroke="#444" stroke-width="0.5"/>
<line x1="508.02" y1="44.2" x2="516.02" y2="44.2" stroke="#111" stroke-width="1.3"/>
<circle cx="512.02" cy="26.9" r="1.0" fill="none" stroke="#333" stroke-width="0.55"/>
<circle cx="512.02" cy="56" r="1.0" fill="none" stroke="#333" stroke-width="0.55"/>
<circle cx="512.02" cy="60.6" r="1.0" fill="none" stroke="#333" stroke-width="0.55"/>
<line x1="512.02" y1="95.1" x2="512.02" y2="97.60" stroke="#444" stroke-width="0.6"/>
<line x1="521.48" y1="26.9" x2="521.48" y2="32" stroke="#333" stroke-width="0.5" stroke-dasharray="1,0.8"/>
<line x1="521.48" y1="37.6" x2="521.48" y2="44" stroke="#333" stroke-width="0.5" stroke-dasharray="1,0.8"/>
<line x1="519.48" y1="26.9" x2="523.48" y2="26.9" stroke="#333" stroke-width="0.5"/>
<line x1="519.48" y1="44" x2="523.48" y2="44" stroke="#333" stroke-width="0.5"/>
<rect x="517.48" y="32" width="8.0" height="5.60" fill="#00ff00" stroke="#444" stroke-width="0.5"/>
<line x1="517.48" y1="34.9" x2="525.48" y2="34.9" stroke="#111" stroke-width="1.3"/>
<circle cx="521.48" cy="22.3" r="1.0" fill="none" stroke="#333" stroke-width="0.55"/>
<circle cx="521.48" cy="46.8" r="1.0" fill="none" stroke="#333" stroke-width="0.55"/>
<circle cx="521.48" cy="49.9" r="1.0" fill="none" stroke="#333" stroke-width="0.55"/>
<line x1="521.48" y1="95.1" x2="521.48" y2="97.60" stroke="#444" stroke-width="0.6"/>
<line x1="530.94" y1="18" x2="530.94" y2="25.3" stroke="#333" stroke-width="0.5" stroke-dasharray="1,0.8"/>
<line x1="530.94" y1="31.5" x2="530.94" y2="37" stroke="#333" stroke-width="0.5" stroke-dasharray="1,0.8"/>
<line x1="528.94" y1="18" x2="532.94" y2="18" stroke="#333" stroke-width="0.5"/>
<line x1="528.94" y1="37" x2="532.94" y2="37" stroke="#333" stroke-width="0.5"/>
<rect x="526.94" y="25.3" width="8.0" height="6.20" fill="#00ff00" stroke="#444" stroke-width="0.5"/>
<line x1="526.94" y1="28.7" x2="534.94" y2="28.7" stroke="#111" stroke-width="1.3"/>
<circle cx="530.94" cy="10" r="1.0" fill="none" stroke="#333" stroke-width="0.55"/>
<circle cx="530.94" cy="13" r="1.0" fill="none" stroke="#333" stroke-width="0.55"/>
<circle cx="530.94" cy="16" r="1.0" fill="none" stroke="#333" stroke-width="0.55"/>
<circle cx="530.94" cy="39" r="1.0" fill="none" stroke="#333" stroke-width="0.55"/>
<circle cx="530.94" cy="42" r="1.0" fill="none" stroke="#333" stroke-width="0.55"/>
<line x1="530.94" y1="95.1" x2="530.94" y2="97.60" stroke="#444" stroke-width="0.6"/>
<g font-family="Liberation Sans, sans-serif" font-size="5.7" fill="#111" text-anchor="end">
<text transform="translate(353.20,100.3) rotate(-90)">Landslide area</text>
<text transform="translate(362.66,100.3) rotate(-90)">Building area</text>
<text transform="translate(372.12,100.3) rotate(-90)">Pipe form</text>
<text transform="translate(381.58,100.3) rotate(-90)">Network type</text>
<text transform="translate(391.04,100.3) rotate(-90)">Depth</text>
<text transform="translate(400.50,100.3) rotate(-90)">Diameter</text>
<text transform="translate(409.96,100.3) rotate(-90)">Land use</text>
<text transform="translate(419.42,100.3) rotate(-90)">Distance to road</text>
<text transform="translate(428.88,100.3) rotate(-90)">Slope</text>
<text transform="translate(438.34,100.3) rotate(-90)">Length</text>
<text transform="translate(447.80,100.3) rotate(-90)">Geology</text>
<text transform="translate(457.26,100.3) rotate(-90)">Groundwater</text>
<text transform="translate(466.72,100.3) rotate(-90)">Pipe type</text>
<text transform="translate(476.18,100.3) rotate(-90)">Soil type</text>
<text transform="translate(485.64,100.3) rotate(-90)">Connection</text>
<text transform="translate(495.10,100.3) rotate(-90)">Population</text>
<text transform="translate(504.56,100.3) rotate(-90)">Traffic volume</text>
<text transform="translate(514.02,100.3) rotate(-90)">Rainfall</text>
<text transform="translate(523.48,100.3) rotate(-90)">Age</text>
<text transform="translate(532.94,100.3) rotate(-90)">Material</text>
</g>
<rect x="339.0" y="8.5" width="66.8" height="24.8" fill="#fff" stroke="#555" stroke-width="0.6"/>
<rect x="343.90" y="13.10" width="3.8" height="3.8" fill="#00ff00" stroke="#444" stroke-width="0.35"/>
<text x="353.1" y="17.00" font-family="Liberation Sans, sans-serif" font-size="5.5" fill="#111">Important Feature</text>
<rect x="343.90" y="19.35" width="3.8" height="3.8" fill="#ffff00" stroke="#444" stroke-width="0.35"/>
<text x="353.1" y="23.25" font-family="Liberation Sans, sans-serif" font-size="5.5" fill="#111">Tentative Feature</text>
<rect x="343.90" y="25.60" width="3.8" height="3.8" fill="#ff0000" stroke="#444" stroke-width="0.35"/>
<text x="353.1" y="29.50" font-family="Liberation Sans, sans-serif" font-size="5.5" fill="#111">Unimportant Feature</text>
<text x="328.7" y="134.0" font-family="Liberation Sans, sans-serif" font-size="8.8" fill="#222" text-anchor="middle">(b)</text>
<line x1="341.2" y1="152.98" x2="341.2" y2="230.5" stroke="#333" stroke-width="0.6"/>
<g font-family="Liberation Sans, sans-serif" font-size="5.5" fill="#222" text-anchor="middle">
<line x1="338.4" y1="230.50" x2="341.2" y2="230.50" stroke="#333" stroke-width="0.6"/>
<text x="335.2" y="232.50">0</text>
<line x1="338.4" y1="217.58" x2="341.2" y2="217.58" stroke="#333" stroke-width="0.6"/>
<text x="335.2" y="219.58">1</text>
<line x1="338.4" y1="204.66" x2="341.2" y2="204.66" stroke="#333" stroke-width="0.6"/>
<text x="335.2" y="206.66">2</text>
<line x1="338.4" y1="191.74" x2="341.2" y2="191.74" stroke="#333" stroke-width="0.6"/>
<text x="335.2" y="193.74">3</text>
<line x1="338.4" y1="178.82" x2="341.2" y2="178.82" stroke="#333" stroke-width="0.6"/>
<text x="335.2" y="180.82">4</text>
<line x1="338.4" y1="165.90" x2="341.2" y2="165.90" stroke="#333" stroke-width="0.6"/>
<text x="335.2" y="167.90">5</text>
<line x1="338.4" y1="152.98" x2="341.2" y2="152.98" stroke="#333" stroke-width="0.6"/>
<text x="335.2" y="154.98">6</text>
</g>
<text transform="translate(324.0,192.3) rotate(-90)" font-family="Liberation Sans, sans-serif" font-size="7.8" fill="#222" text-anchor="middle">Importance (x10<tspan font-size="5" dy="-2.8">6</tspan><tspan dy="2.8">)</tspan></text>
<rect x="350.10" y="229.34" width="8.2" height="1.16" fill="#7f9fcc" stroke="#4d5a70" stroke-width="0.6"/>
<rect x="359.84" y="228.82" width="8.2" height="1.68" fill="#7f9fcc" stroke="#4d5a70" stroke-width="0.6"/>
<rect x="369.58" y="228.30" width="8.2" height="2.20" fill="#7f9fcc" stroke="#4d5a70" stroke-width="0.6"/>
<rect x="379.32" y="225.46" width="8.2" height="5.04" fill="#7f9fcc" stroke="#4d5a70" stroke-width="0.6"/>
<rect x="389.06" y="220.16" width="8.2" height="10.34" fill="#7f9fcc" stroke="#4d5a70" stroke-width="0.6"/>
<rect x="398.80" y="220.16" width="8.2" height="10.34" fill="#7f9fcc" stroke="#4d5a70" stroke-width="0.6"/>
<rect x="408.54" y="219.65" width="8.2" height="10.85" fill="#7f9fcc" stroke="#4d5a70" stroke-width="0.6"/>
<rect x="418.28" y="218.10" width="8.2" height="12.40" fill="#7f9fcc" stroke="#4d5a70" stroke-width="0.6"/>
<rect x="428.02" y="217.58" width="8.2" height="12.92" fill="#7f9fcc" stroke="#4d5a70" stroke-width="0.6"/>
<rect x="437.76" y="215.25" width="8.2" height="15.25" fill="#7f9fcc" stroke="#4d5a70" stroke-width="0.6"/>
<rect x="447.50" y="209.05" width="8.2" height="21.45" fill="#7f9fcc" stroke="#4d5a70" stroke-width="0.6"/>
<rect x="457.24" y="204.14" width="8.2" height="26.36" fill="#7f9fcc" stroke="#4d5a70" stroke-width="0.6"/>
<rect x="466.98" y="202.33" width="8.2" height="28.17" fill="#7f9fcc" stroke="#4d5a70" stroke-width="0.6"/>
<rect x="476.72" y="190.84" width="8.2" height="39.66" fill="#7f9fcc" stroke="#4d5a70" stroke-width="0.6"/>
<rect x="486.46" y="190.06" width="8.2" height="40.44" fill="#7f9fcc" stroke="#4d5a70" stroke-width="0.6"/>
<rect x="496.20" y="179.21" width="8.2" height="51.29" fill="#7f9fcc" stroke="#4d5a70" stroke-width="0.6"/>
<rect x="505.94" y="175.46" width="8.2" height="55.04" fill="#7f9fcc" stroke="#4d5a70" stroke-width="0.6"/>
<rect x="515.68" y="169.00" width="8.2" height="61.50" fill="#7f9fcc" stroke="#4d5a70" stroke-width="0.6"/>
<rect x="525.42" y="166.42" width="8.2" height="64.08" fill="#7f9fcc" stroke="#4d5a70" stroke-width="0.6"/>
<rect x="535.16" y="163.83" width="8.2" height="66.67" fill="#7f9fcc" stroke="#4d5a70" stroke-width="0.6"/>
<g font-family="Liberation Sans, sans-serif" font-size="7" fill="#222" text-anchor="end">
<text transform="translate(356.70,236) rotate(-90)">Network type</text>
<text transform="translate(366.44,236) rotate(-90)">Pipe form</text>
<text transform="translate(376.18,236) rotate(-90)">Landslide area</text>
<text transform="translate(385.92,236) rotate(-90)">Geology</text>
<text transform="translate(395.66,236) rotate(-90)">Pipe type</text>
<text transform="translate(405.40,236) rotate(-90)">Connection</text>
<text transform="translate(415.14,236) rotate(-90)">Land use</text>
<text transform="translate(424.88,236) rotate(-90)">Distance to road</text>
<text transform="translate(434.62,236) rotate(-90)">Building area</text>
<text transform="translate(444.36,236) rotate(-90)">Soil type</text>
<text transform="translate(454.10,236) rotate(-90)">Diameter</text>
<text transform="translate(463.84,236) rotate(-90)">Material</text>
<text transform="translate(473.58,236) rotate(-90)">Traffic volume</text>
<text transform="translate(483.32,236) rotate(-90)">Groundwater</text>
<text transform="translate(493.06,236) rotate(-90)">Population</text>
<text transform="translate(502.80,236) rotate(-90)">Depth</text>
<text transform="translate(512.54,236) rotate(-90)">Rainfall</text>
<text transform="translate(522.28,236) rotate(-90)">Age</text>
<text transform="translate(532.02,236) rotate(-90)">Length</text>
<text transform="translate(541.76,236) rotate(-90)">Slope</text>
</g>
<text x="329.4" y="277.3" font-family="Liberation Sans, sans-serif" font-size="8.8" fill="#222" text-anchor="middle">(c)</text>
</svg>
</body></html>
